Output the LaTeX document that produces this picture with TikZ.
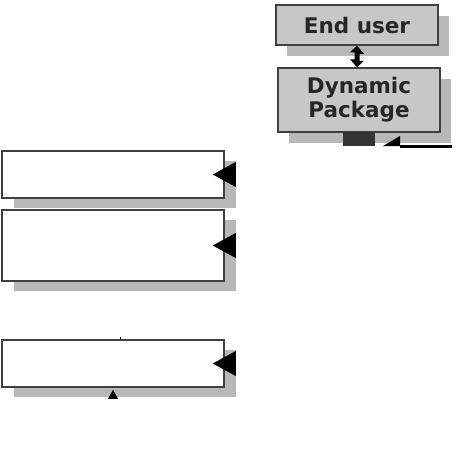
\documentclass[tikz,border=0pt]{standalone}
\usepackage{fontspec}
\newfontfamily\boxfont{DejaVu Sans}
\usetikzlibrary{shadows}

\begin{document}
\begin{tikzpicture}[x=1pt,y=-1pt,
grey/.style={rectangle,draw=black!75,line width=1.5pt,fill=black!22,inner sep=0pt,minimum width=162pt,
  font=\boxfont\bfseries\fontsize{21.5}{24}\selectfont,text=black!85,align=center,
  drop shadow={shadow xshift=11pt,shadow yshift=-11pt,fill=black!28,opacity=1}},
blank/.style={rectangle,draw=black!75,line width=1.5pt,fill=white,inner sep=0pt,minimum width=222pt,
  drop shadow={shadow xshift=12pt,shadow yshift=-10pt,fill=black!28,opacity=1}},
tip/.style={fill=black}]

\useasboundingbox (0,0) rectangle (474,474);

% Top right
\node[grey,minimum height=40pt] (enduser) at (357,25) {End user};
\node[grey,minimum height=64pt] (dynpkg) at (359,100) {Dynamic\\Package};
% double arrow
\coordinate (arrT) at (enduser.south);
\coordinate (arrB) at (enduser.south |- dynpkg.north);
\fill[tip] (arrT) -- ++(7,8) -- ++(-4.5,0) -- ++(0,7) -- ++(4.5,0)
  -- (arrB) -- ++(-7,-8) -- ++(4.5,0) -- ++(0,-7) -- ++(-4.5,0) -- cycle;

% below Dynamic Package
\fill[black!80] (343,132) rectangle (375,146);
\fill[tip] (383,146) -- (400,136) -- (400,146) -- cycle;
\coordinate (outR) at (452,146);
\draw[line width=3pt] (400,146) -- (outR);

% Left boxes
\node[blank,minimum height=47pt] (boxA) at (113,174.5) {};
\node[blank,minimum height=71pt] (boxB) at (113,245.5) {};
\node[blank,minimum height=47pt] (boxC) at (113,363.5) {};

% Arrowheads
\foreach \b in {boxA,boxB,boxC}
  \fill[tip] (\b.east) ++(-12,0) -- ++(23,-12.5) -- ++(0,25) -- cycle;
\fill[tip] (boxC.south) ++(0,2) -- ++(5,9) -- ++(-10,0) -- cycle;
\draw[line width=1pt] (boxC.north) ++(7,0) -- ++(0,-2);

\end{tikzpicture}
\end{document}
